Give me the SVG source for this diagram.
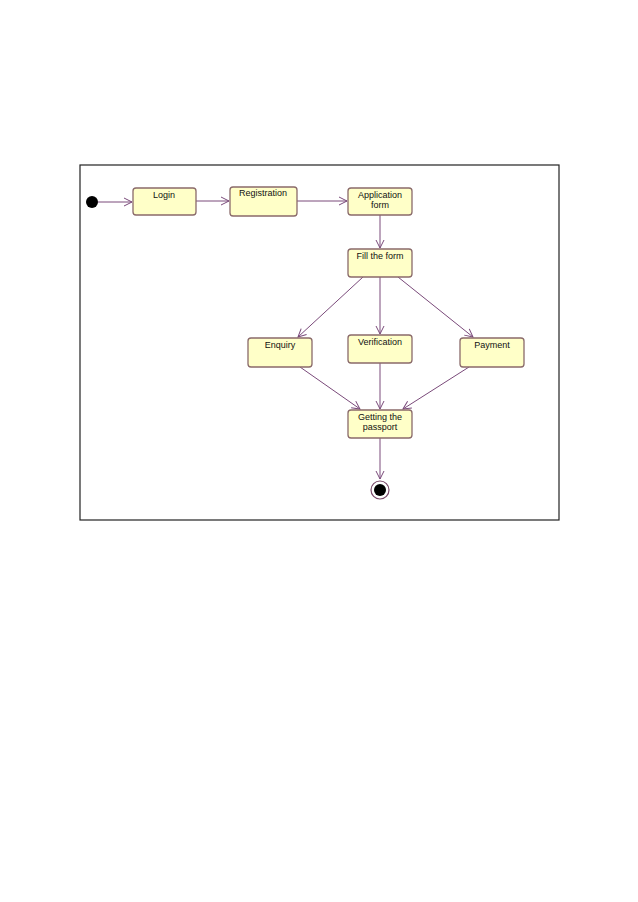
<svg xmlns="http://www.w3.org/2000/svg" width="638" height="902" viewBox="0 0 638 902">
<defs>
<style>
.n{fill:#ffffc8;stroke:#8a6a6a;stroke-width:1.3}
.t{font-family:"Liberation Sans",Arial,sans-serif;font-size:9px;fill:#111;text-anchor:middle}
.c{stroke:#7a4a7a;stroke-width:1;fill:none;marker-end:url(#a)}
</style>
<marker id="a" markerWidth="10" markerHeight="10" refX="9" refY="5" orient="auto" markerUnits="userSpaceOnUse">
<path d="M1,1 L9,5 L1,9" fill="none" stroke="#7a4a7a" stroke-width="1"/>
</marker>
</defs>
<rect width="638" height="902" fill="#fff"/>
<rect x="80" y="165" width="479" height="355" fill="none" stroke="#222" stroke-width="1.2"/>
<g id="connectors">
<path class="c" d="M98,202 H132"/>
<path class="c" d="M196,201 H229"/>
<path class="c" d="M297,201 H347"/>
<path class="c" d="M380,215 V248"/>
<path class="c" d="M363,277 L298,337"/>
<path class="c" d="M380,277 V334"/>
<path class="c" d="M398,277 L473,337"/>
<path class="c" d="M300,367 L360,409"/>
<path class="c" d="M380,363 V409"/>
<path class="c" d="M469,367 L403,409"/>
<path class="c" d="M380,438 V479"/>
</g>
<g id="start"><circle cx="92" cy="202" r="6" fill="#000"/></g>
<g id="login"><rect class="n" x="133" y="188" width="63" height="27" rx="3"/><text class="t" x="164" y="198">Login</text></g>
<g id="registration"><rect class="n" x="230" y="187" width="67" height="29" rx="3"/><text class="t" x="263" y="196">Registration</text></g>
<g id="application"><rect class="n" x="348" y="188" width="64" height="27" rx="3"/><text class="t" x="380" y="198">Application</text><text class="t" x="380" y="208">form</text></g>
<g id="fill"><rect class="n" x="348" y="249" width="64" height="28" rx="3"/><text class="t" x="380" y="259">Fill the form</text></g>
<g id="enquiry"><rect class="n" x="248" y="338" width="64" height="29" rx="3"/><text class="t" x="280" y="348">Enquiry</text></g>
<g id="verification"><rect class="n" x="348" y="335" width="64" height="28" rx="3"/><text class="t" x="380" y="345">Verification</text></g>
<g id="payment"><rect class="n" x="460" y="338" width="64" height="29" rx="3"/><text class="t" x="492" y="348">Payment</text></g>
<g id="getting"><rect class="n" x="348" y="410" width="64" height="28" rx="3"/><text class="t" x="380" y="420">Getting the</text><text class="t" x="380" y="430">passport</text></g>
<g id="end"><circle cx="380" cy="490" r="9" fill="#fff" stroke="#7a4a6a" stroke-width="1.2"/><circle cx="380" cy="490" r="6" fill="#000"/></g>
</svg>
